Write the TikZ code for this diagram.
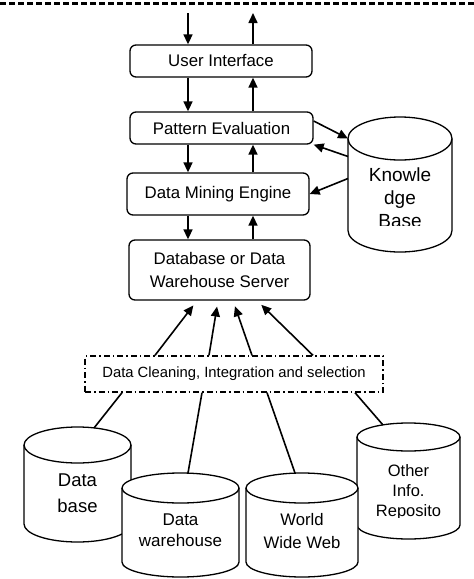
\documentclass[tikz,border=0pt]{standalone}
\usepackage{fontspec}
\setmainfont{Liberation Sans}
\usetikzlibrary{arrows.meta}

\tikzset{
	block/.style={draw, rounded corners=6pt, line width=1.3pt, align=center, font=\fontsize{16.8}{23}\selectfont},
	slot/.style={inner sep=0pt, outer sep=0pt},
	store/.style={draw, fill=white, line width=1.3pt},
	storetext/.style={align=center, inner sep=0pt, font=\fontsize{17}{22}\selectfont},
	flow/.style={-{Triangle[length=10pt,width=9pt]}, line width=1.6pt},
	link/.style={line width=1.6pt}
}

% cylinder outline round a slot node: name, x radius, y radius
\newcommand{\drum}[3]{%
	\draw[store] ([yshift=-#3]#1.north west) -- ([yshift=#3]#1.south west)
		arc[start angle=180, end angle=360, x radius=#2, y radius=#3]
		-- ([yshift=-#3]#1.north east)
		arc[start angle=0, end angle=180, x radius=#2, y radius=#3] -- cycle;
	\draw[store, fill=none] ([yshift=-#3]#1.north west)
		arc[start angle=180, end angle=360, x radius=#2, y radius=#3];
}

\begin{document}
\begin{tikzpicture}[x=1pt,y=-1pt]
		\useasboundingbox (0,0) rectangle (474,579);

		% Frame edge
		\coordinate (fl) at (0,3);
		\coordinate (fr) at (474,3);
		\draw[line width=3pt, dash pattern=on 6pt off 3pt] (fl) -- (fr);

		% Define nodes
		\node[block, minimum width=182pt, minimum height=32pt] (UI) at (221,61) {User Interface};
		\node[block, minimum width=183pt, minimum height=32pt] (PE) at (221.5,128) {Pattern Evaluation};
		\node[block, minimum width=182pt, minimum height=42pt] (DME) at (218,194) {Data Mining Engine};
		\node[block, minimum width=181pt, minimum height=60pt] (SRV) at (219.5,270) {Database or Data\\Warehouse Server};
		\node[block, rounded corners=0pt, dash pattern=on 6pt off 3pt on 1.5pt off 3pt, minimum width=298pt, minimum height=36pt, font=\fontsize{14.8}{18}\selectfont] (DC) at (234,374) {Data Cleaning, Integration and selection};

		\node[slot, minimum width=104pt, minimum height=135pt] (KB) at (400,184.5) {};
		\drum{KB}{52pt}{21.5pt}
		\begin{scope}
			\clip ([yshift=-40.5pt]KB.west) rectangle (KB.north east);
			\node[storetext, font=\fontsize{19}{23}\selectfont] (KBt) at ([yshift=-13.5pt]KB.center) {Knowle\\dge\\Base};
		\end{scope}

		\node[slot, minimum width=107pt, minimum height=115pt] (DBc) at (77.5,484.5) {};
		\drum{DBc}{53.5pt}{18pt}
		\node[storetext, font=\fontsize{18.5}{26}\selectfont] (DBt) at ([yshift=-8.5pt]DBc.center) {Data\\base};

		\node[slot, minimum width=117pt, minimum height=104pt] (DW) at (180.5,525) {};
		\drum{DW}{58.5pt}{15pt}
		\node[storetext, font=\fontsize{17}{21}\selectfont] (DWt) at ([yshift=-5.5pt]DW.center) {Data\\warehouse};

		\node[slot, minimum width=103pt, minimum height=116pt] (OIR) at (408.5,481) {};
		\drum{OIR}{51.5pt}{14pt}
		\begin{scope}
			\clip ([yshift=-36pt]OIR.west) rectangle (OIR.north east);
			\node[storetext, font=\fontsize{16.5}{20}\selectfont] (OIRt) at ([yshift=-11pt]OIR.center) {Other\\Info.\\Reposito};
		\end{scope}

		\node[slot, minimum width=112pt, minimum height=104pt] (WWW) at (302,525) {};
		\drum{WWW}{56pt}{15pt}
		\node[storetext, font=\fontsize{16.7}{23}\selectfont] (WWWt) at ([yshift=-6.5pt]WWW.center) {World\\Wide Web};

		\coordinate (dn) at (188,0);
		\coordinate (up) at (253,0);
		\coordinate (in) at (188,13);
		\coordinate (out) at (253,13);

		% Connect the nodes
		\draw[flow] (in) -- (UI.north -| in);
		\draw[flow] (UI.north -| out) -- (out);
		\draw[flow] (UI.south -| dn) -- (PE.north -| dn);
		\draw[flow] (PE.north -| up) -- (UI.south -| up);
		\draw[flow] (PE.south -| dn) -- (DME.north -| dn);
		\draw[flow] (DME.north -| up) -- (PE.south -| up);
		\draw[flow] (DME.south -| dn) -- (SRV.north -| dn);
		\draw[flow] (SRV.north -| up) -- (DME.south -| up);

		\draw[flow] ([yshift=7pt]PE.east) -- ([yshift=46pt]KB.west);
		\draw[flow] ([yshift=28pt]KB.west) -- (PE.south east);
		\draw[flow] ([yshift=6pt]KB.west) -- (DME.east);

		\draw[flow, shorten >=6pt] ([xshift=-79pt]DC.north) -- ([xshift=-22.5pt]SRV.south);
		\draw[flow, shorten >=6pt] ([xshift=-25pt]DC.north) -- ([xshift=-1.5pt]SRV.south);
		\draw[flow, shorten >=6pt] ([xshift=18pt]DC.north) -- ([xshift=13.5pt]SRV.south);
		\draw[flow, shorten >=6pt] ([xshift=79pt]DC.north) -- ([xshift=37.5pt]SRV.south);

		\draw[link] ([xshift=-112pt]DC.south) -- ([xshift=16.5pt,yshift=-1pt]DBc.north);
		\draw[link] ([xshift=-32pt]DC.south) -- ([xshift=7.5pt]DW.north);
		\draw[link] ([xshift=33pt]DC.south) -- ([xshift=-7pt]WWW.north);
		\draw[link] ([xshift=121pt]DC.south) -- ([xshift=-25.5pt,yshift=-2pt]OIR.north);
	\end{tikzpicture}
\end{document}
